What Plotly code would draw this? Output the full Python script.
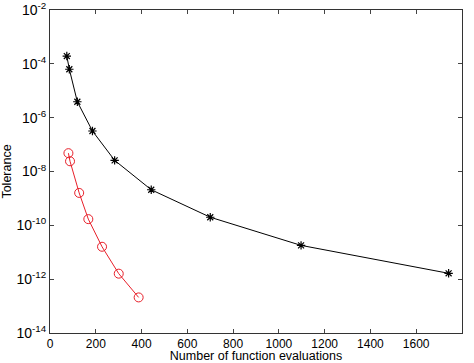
import plotly.graph_objects as go

black_x = [73, 84, 119, 185, 282, 442, 700, 1097, 1742]
black_y = [1.95e-4, 6.3e-5, 3.9e-6, 3.2e-7, 2.6e-8, 2.1e-9, 2.0e-10, 1.8e-11, 1.65e-12]
red_x = [80, 87, 127, 167, 227, 300, 387]
red_y = [4.8e-8, 2.4e-8, 1.6e-9, 1.7e-10, 1.6e-11, 1.6e-12, 2.1e-13]

ytick_exp = [-2, -4, -6, -8, -10, -12, -14]
xticks = [0, 200, 400, 600, 800, 1000, 1200, 1400, 1600, 1800]

fig = go.Figure()
fig.add_trace(go.Scatter(x=black_x, y=black_y, mode="lines+markers",
                         line=dict(color="black", width=1),
                         marker=dict(symbol="asterisk-open", size=7, color="black",
                                     line=dict(width=1.2, color="black"))))
fig.add_trace(go.Scatter(x=red_x, y=red_y, mode="lines+markers",
                         line=dict(color="#e8202a", width=1),
                         marker=dict(symbol="circle-open", size=9, color="#e8202a",
                                     line=dict(width=1, color="#e8202a"))))

font = dict(family="Liberation Sans, Arial, sans-serif", size=12, color="black")
tfont = dict(family="Liberation Sans, Arial, sans-serif", size=12.5, color="black")
yfont = dict(family="Liberation Sans, Arial, sans-serif", size=14, color="black")
fig.update_layout(
    width=474, height=363,
    margin=dict(l=50, r=12, t=10, b=30),
    paper_bgcolor="white", plot_bgcolor="white",
    showlegend=False, font=font,
    xaxis=dict(range=[-0.5, 1800.5], tickvals=xticks, ticktext=[str(v) for v in xticks],
               ticks="inside", ticklen=4, automargin=False,
               showline=True, linecolor="#333333", linewidth=1, mirror="ticks",
               showgrid=False, zeroline=False, tickfont=font,
               title=dict(text="Number of function evaluations", font=tfont)),
    yaxis=dict(type="log", range=[-14, -2], automargin=False,
               tickvals=[10 ** e for e in ytick_exp],
               ticktext=["10<sup>%d</sup>" % e for e in ytick_exp],
               ticks="inside", ticklen=4,
               showline=True, linecolor="#333333", linewidth=1, mirror="ticks",
               showgrid=False, zeroline=False, tickfont=yfont,
               title=dict(text="Tolerance", font=tfont)),
)
fig.write_html("out.html", config={"displayModeBar": False},
               post_script="document.body.style.margin='0';")
